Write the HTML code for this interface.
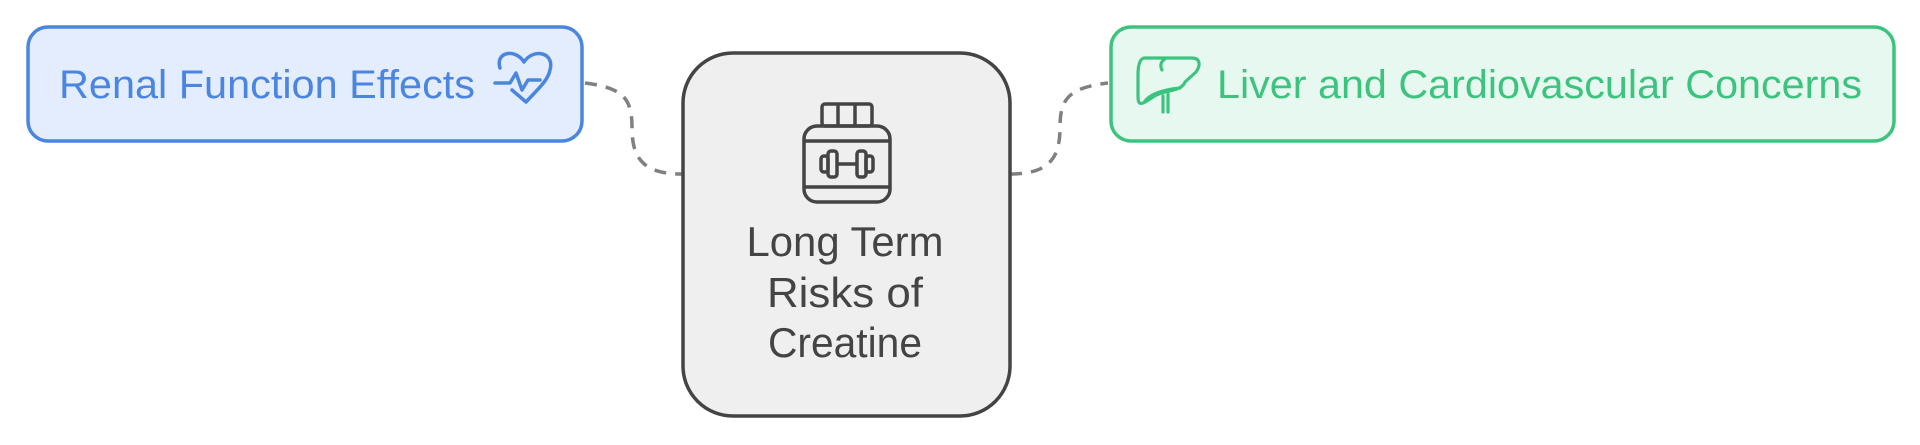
<!DOCTYPE html>
<html><head><meta charset="utf-8"><style>html,body{margin:0;padding:0;background:#fff;}svg{display:block}</style></head>
<body>
<svg width="1920" height="445" viewBox="0 0 1920 445" xmlns="http://www.w3.org/2000/svg" font-family="Liberation Sans, sans-serif">
<path d="M585 83 C625 88 632 100 632 128 C632 160 645 174 682 174" fill="none" stroke="#808080" stroke-width="3.5" stroke-dasharray="12 9"/>
<path d="M1010 174 C1047 174 1060 160 1060 128 C1060 100 1067 88 1108 83" fill="none" stroke="#808080" stroke-width="3.5" stroke-dasharray="12 9"/>
<rect x="28" y="27" width="554" height="114" rx="20" fill="#e3edfd" stroke="#4a86e0" stroke-width="3.5"/>
<text x="59" y="98" font-size="40" fill="#4a86e0" textLength="416" lengthAdjust="spacingAndGlyphs">Renal Function Effects</text>
<g fill="none" stroke="#4a86e0" stroke-width="3.5" stroke-linejoin="round" stroke-linecap="round">
<path d="M500 68 C495 52 515 48 524 62 C533 48 555 52 550 70 C548 80 540 87 526 102 L512 90"/>
<path d="M495 83 H510 L516 73 L522 90 L528 80 H540"/>
</g>
<rect x="683" y="53" width="327" height="363" rx="50" fill="#efefef" stroke="#444" stroke-width="3.5"/>
<g fill="none" stroke="#444" stroke-width="3.5" stroke-linejoin="round">
<rect x="822" y="104" width="50" height="22" rx="3"/>
<line x1="838" y1="104" x2="838" y2="126"/><line x1="855" y1="104" x2="855" y2="126"/>
<rect x="804" y="126" width="86" height="76" rx="13"/>
<line x1="804" y1="141" x2="890" y2="141"/><line x1="804" y1="187" x2="890" y2="187"/>
<rect x="828" y="151" width="9" height="26" rx="3"/><rect x="857" y="151" width="9" height="26" rx="3"/>
<rect x="821" y="156" width="7" height="16" rx="3"/><rect x="866" y="156" width="7" height="16" rx="3"/>
<line x1="837" y1="164" x2="857" y2="164"/>
</g>
<g font-size="42" fill="#444" text-anchor="middle">
<text x="845" y="256" textLength="197" lengthAdjust="spacingAndGlyphs">Long Term</text>
<text x="845" y="307" textLength="156" lengthAdjust="spacingAndGlyphs">Risks of</text>
<text x="845" y="357" textLength="154" lengthAdjust="spacingAndGlyphs">Creatine</text>
</g>
<rect x="1111" y="27" width="783" height="114" rx="20" fill="#e7f8f0" stroke="#3cc47f" stroke-width="3.5"/>
<text x="1217" y="98" font-size="40" fill="#3cc47f" textLength="645" lengthAdjust="spacingAndGlyphs">Liver and Cardiovascular Concerns</text>
<g fill="none" stroke="#3cc47f" stroke-width="3.2" stroke-linejoin="round" stroke-linecap="round">
<path d="M1145 58 H1192 C1200 58 1201 65 1196 72 L1185 82 C1183 88 1175 90 1165 92 C1155 94 1150 100 1143 103 C1138 105 1138 100 1138 95 L1138 75 C1138 65 1140 58 1145 58 Z"/>
<path d="M1166 58 C1160 62 1160 66 1162 70"/>
<path d="M1145 101 C1150 95 1160 90 1180 88"/>
<line x1="1163" y1="96" x2="1163" y2="112"/><line x1="1168" y1="94" x2="1168" y2="112"/>
</g>
</svg>
</body></html>
